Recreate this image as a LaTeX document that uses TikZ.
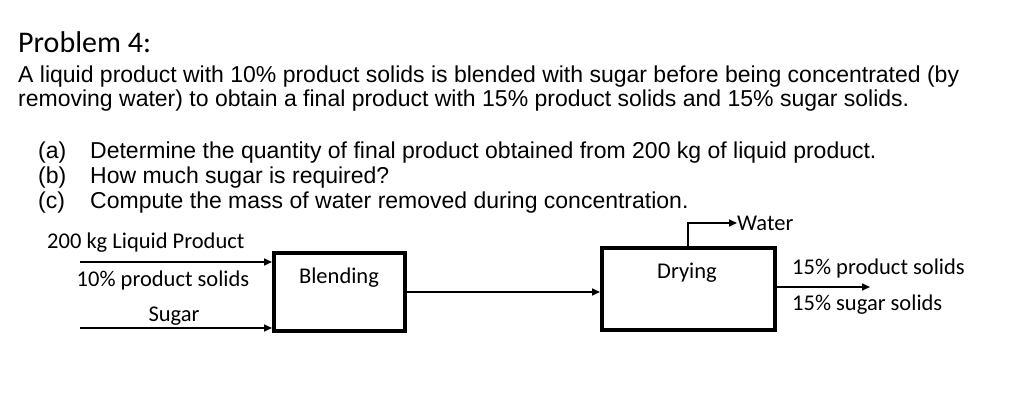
\documentclass[tikz,border=0pt]{standalone}
\usepackage{fontspec}
\setmainfont{Liberation Sans}
\newfontfamily\carfont{Carlito}
\usetikzlibrary{arrows.meta}
\begin{document}
\begin{tikzpicture}[x=1pt,y=-1pt,
  body/.style={anchor=west,font=\fontsize{23}{26}\selectfont,inner sep=0},
  lab/.style={font=\carfont\fontsize{22.5}{26}\selectfont,inner sep=0},
  blk/.style={draw,line width=4pt},
  flow/.style={line width=1.6pt,-{Triangle[length=8pt,width=7pt]}}]
\useasboundingbox (0,0) rectangle (1024,411);
\node[anchor=west,inner sep=0,font=\carfont\fontsize{30}{34}\selectfont] (t) at (18,42) {Problem 4:};
\node[body] (p1) at (18,77) {A liquid product with 10\% product solids is blended with sugar before being concentrated (by};
\node[body] (p2) at (18,101) {removing water) to obtain a final product with 15\% product solids and 15\% sugar solids.};
\node[body] (a) at (38,153) {(a)};
\node[body] (at) at (90,153) {Determine the quantity of final product obtained from 200 kg of liquid product.};
\node[body] (b) at (38,178) {(b)};
\node[body] (bt2) at (90,178) {How much sugar is required?};
\node[body] (c) at (38,203) {(c)};
\node[body] (ct) at (90,203) {Compute the mass of water removed during concentration.};
\draw[blk] (274,253) rectangle (405,331);
\draw[blk] (602,248) rectangle (775,330);
\node[lab] (bt) at (339,278) {Blending};
\node[lab] (dt) at (687,273) {Drying};
\node[lab,anchor=west] (l1) at (47,243) {200 kg Liquid Product};
\node[lab] (l2) at (163,281) {10\% product solids};
\node[lab] (l3) at (174,316) {Sugar};
\node[lab,anchor=west] (o1) at (792,269) {15\% product solids};
\node[lab,anchor=west] (o2) at (792,305) {15\% sugar solids};
\node[lab,anchor=west] (w) at (737,223) {Water};
\coordinate (i1) at (80,262); \coordinate (i1e) at (272,262);
\coordinate (i2) at (80,328); \coordinate (i2e) at (272,328);
\draw[flow] (i1) -- (i1e);
\draw[flow] (i2) -- (i2e);
\coordinate (m1) at (407,292); \coordinate (m2) at (600,292);
\draw[flow] (m1) -- (m2);
\coordinate (o) at (777,287); \coordinate (oe) at (870,287);
\draw[flow] (o) -- (oe);
\coordinate (ws) at (688,246);
\draw[flow] (ws) |- (w.west);
\end{tikzpicture}
\end{document}
